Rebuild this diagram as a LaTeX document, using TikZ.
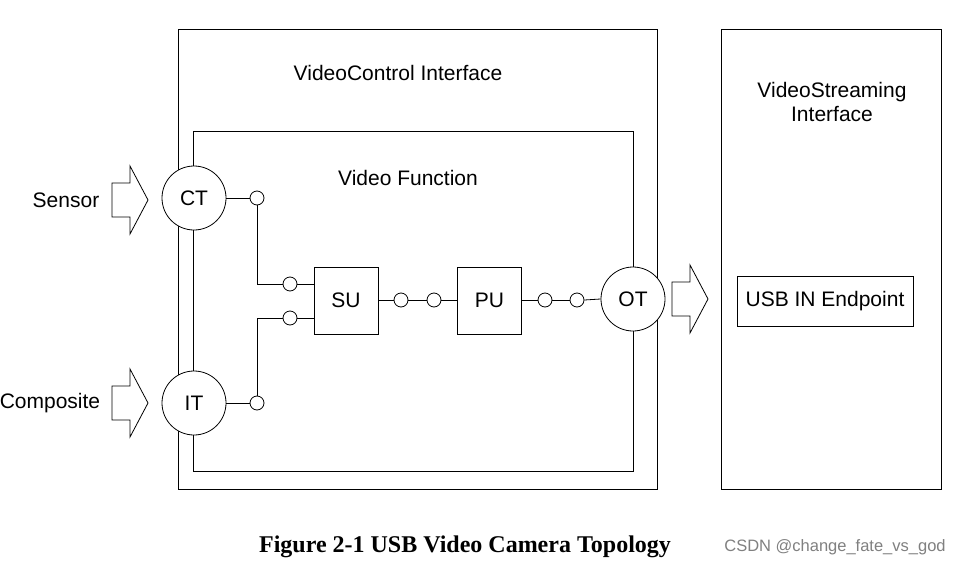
\documentclass[tikz,border=0pt]{standalone}
\usepackage{fontspec}
\setmainfont{Liberation Sans}
\newfontfamily\capfont{Liberation Serif}
\begin{document}
\begin{tikzpicture}[x=1pt,y=-1pt,
  box/.style={draw,line width=0.8pt},
  txt/.style={font=\fontsize{21}{24}\selectfont,align=center,inner sep=0},
  big/.style={draw,circle,minimum size=64pt,inner sep=0,font=\fontsize{21}{24}\selectfont,line width=0.8pt},
  sm/.style={draw,circle,minimum size=14pt,inner sep=0,line width=0.8pt},
  un/.style={draw,minimum width=64pt,minimum height=67pt,inner sep=0,font=\fontsize{21}{24}\selectfont,line width=0.8pt},
  ln/.style={line width=0.8pt}]
\useasboundingbox (0,0) rectangle (967,568);
\fill[white] (0,0) rectangle (967,568);
\draw[box] (178,29) rectangle (657,489);
\draw[box] (193,131) rectangle (633,471);
\draw[box] (721,29) rectangle (941,489);
\node[txt] (vc) at (398,73) {VideoControl Interface};
\node[txt] (vf) at (408,178) {Video Function};
\node[txt] (vs) at (832,102) {VideoStreaming\\Interface};
\node[draw,line width=0.8pt,minimum width=176pt,minimum height=50pt,inner sep=0,font=\fontsize{21}{24}\selectfont] (ep) at (825,301) {USB IN Endpoint};
\node[big,fill=white] (ct) at (194,198) {CT};
\node[big,fill=white] (it) at (194,403) {IT};
\node[big,fill=white] (ot) at (633,299) {OT};
\node[un] (su) at (346,300.5) {SU};
\node[un] (pu) at (489.5,300.5) {PU};
\node[sm] (c1) at (257,198) {};
\node[sm] (c2) at (290,284) {};
\node[sm] (c3) at (290,318) {};
\node[sm] (c4) at (257,403) {};
\node[sm] (c5) at (401,300) {};
\node[sm] (c6) at (434,300) {};
\node[sm] (c7) at (545,300) {};
\node[sm] (c8) at (577,300) {};
\draw[ln] (ct.east) -- (c1.west);
\draw[ln] (c1.south) |- (c2.west);
\draw[ln] (c2.east) -- (c2.east -| su.west);
\draw[ln] (it.east) -- (c4.west);
\draw[ln] (c4.north) |- (c3.west);
\draw[ln] (c3.east) -- (c3.east -| su.west);
\draw[ln] (su.east |- c5) -- (c5.west);
\draw[ln] (c5.east) -- (c6.west);
\draw[ln] (c6.east) -- (c6.east -| pu.west);
\draw[ln] (pu.east |- c7) -- (c7.west);
\draw[ln] (c7.east) -- (c8.west);
\draw[ln] (c8.east) -- (ot.west);
\node[txt] (sen) at (66,200) {Sensor};
\node[txt] (com) at (50,403) {Composite};
\foreach \x/\y in {112/200,112/403,672/299}{
  \draw[ln] (\x,\y-17) -- (\x+18,\y-17) -- (\x+18,\y-34) -- (\x+36,\y) -- (\x+18,\y+34) -- (\x+18,\y+17) -- (\x,\y+17) -- cycle;}
\node[inner sep=0,font=\capfont\bfseries\fontsize{24}{28}\selectfont] (cap) at (465,547) {Figure 2-1 USB Video Camera Topology};
\node[inner sep=0,text=gray,font=\fontsize{16.5}{20}\selectfont] (wm) at (835,547) {CSDN @change\_fate\_vs\_god};
\end{tikzpicture}
\end{document}
